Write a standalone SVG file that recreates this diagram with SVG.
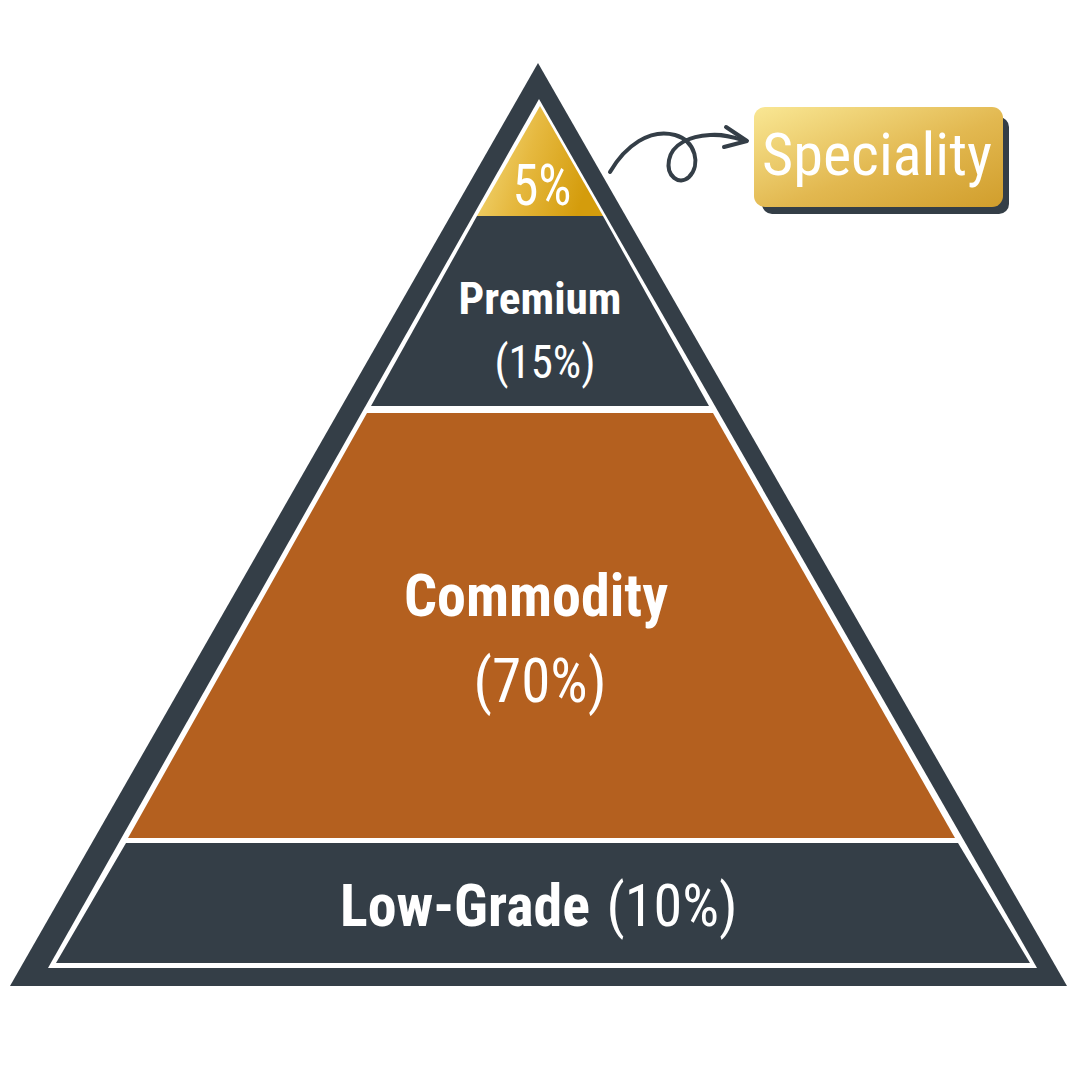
<svg xmlns="http://www.w3.org/2000/svg" width="1080" height="1080" viewBox="0 0 1080 1080">
  <defs>
    <linearGradient id="goldTip" x1="0" y1="0" x2="1" y2="0.3">
      <stop offset="0" stop-color="#f6df85"/>
      <stop offset="0.5" stop-color="#e6b940"/>
      <stop offset="1" stop-color="#d49c0c"/>
    </linearGradient>
    <linearGradient id="goldBox" x1="0" y1="0" x2="1" y2="1">
      <stop offset="0" stop-color="#f9e794"/>
      <stop offset="0.55" stop-color="#e2b850"/>
      <stop offset="1" stop-color="#d19e2c"/>
    </linearGradient>
    <style>
      .dark { fill: #343e47; }
      .orange { fill: #b4601f; }
      .lbl { fill: #ffffff; font-family: "Roboto Condensed", Roboto, "Liberation Sans", sans-serif; text-anchor: middle; }
      .bold { font-weight: 700; }
      .reg { font-weight: 400; }
      .conn { fill: none; stroke: #343e47; stroke-width: 4; stroke-linecap: round; stroke-linejoin: round; }
    </style>
  </defs>

  <rect width="1080" height="1080" fill="#ffffff"/>

  <g id="frame">
    <polygon class="dark" points="538,63 10,986 1067,986"/>
    <polygon fill="#ffffff" points="539,99 48,968 1037,968"/>
  </g>

  <g id="tier-speciality">
    <polygon fill="url(#goldTip)" points="540,106 477,216 603,216"/>
    <text class="lbl reg" x="542" y="205" font-size="58" textLength="59" lengthAdjust="spacingAndGlyphs">5%</text>
  </g>

  <g id="tier-premium">
    <polygon class="dark" points="477,216 603,216 709,406 371,406"/>
    <text class="lbl bold" x="540" y="314" font-size="44" textLength="163" lengthAdjust="spacingAndGlyphs">Premium</text>
    <text class="lbl reg" x="545" y="378" font-size="46" textLength="101" lengthAdjust="spacingAndGlyphs">(15%)</text>
  </g>

  <g id="tier-commodity">
    <polygon class="orange" points="367,413 713,413 955,838 128,838"/>
    <text class="lbl bold" x="536" y="616" font-size="60" textLength="264" lengthAdjust="spacingAndGlyphs">Commodity</text>
    <text class="lbl reg" x="540" y="702" font-size="62" textLength="133" lengthAdjust="spacingAndGlyphs">(70%)</text>
  </g>

  <g id="tier-lowgrade">
    <polygon class="dark" points="126,843 958,843 1030,963 56,963"/>
    <text class="lbl bold" x="465" y="926" font-size="60" textLength="250" lengthAdjust="spacingAndGlyphs">Low-Grade</text>
    <text class="lbl reg" x="672" y="926" font-size="60" textLength="131" lengthAdjust="spacingAndGlyphs">(10%)</text>
  </g>

  <g id="label-speciality">
    <rect x="762" y="117" width="247" height="97" rx="10" class="dark"/>
    <rect x="754" y="107" width="249" height="100" rx="11" fill="url(#goldBox)"/>
    <text class="lbl reg" x="877" y="175" font-size="60" textLength="230" lengthAdjust="spacingAndGlyphs">Speciality</text>
  </g>

  <g id="connectors">
    <path class="conn" d="M610,172 C625,146 650,128 675,135 C696,141 701,165 689,177 C679,186 666,176 669,160 C672,144 690,136 710,135 C725,134 736,138 746,141"/>
    <path class="conn" d="M726,127 L747,141 L724,147"/>
  </g>
</svg>
